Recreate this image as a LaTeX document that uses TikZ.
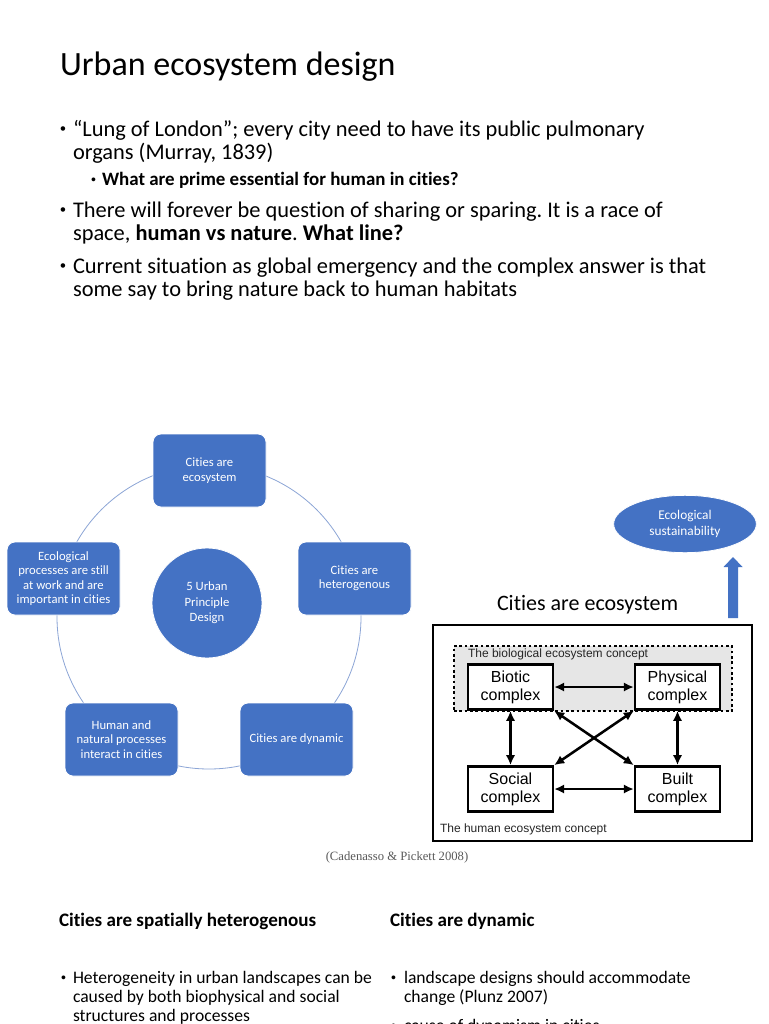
\documentclass[tikz,border=0pt]{standalone}
\usepackage{fontspec}
\setmainfont{Carlito}[Ligatures=NoCommon]
\newfontfamily\arialf{Liberation Sans}
\newfontfamily\citef{Liberation Serif}
\usetikzlibrary{arrows.meta,shapes.geometric}
\definecolor{pblue}{HTML}{4472C4}
\definecolor{ringc}{HTML}{8CA5D6}
\definecolor{dotfill}{HTML}{E6E6E6}
\frenchspacing
\tikzset{
  txt/.style={anchor=base west, inner sep=0pt, outer sep=0pt},
  bigtxt/.style={txt, font=\fontsize{16.8}{20}\selectfont},
  bul/.style={txt, font=\arialf\fontsize{12.5}{14}\selectfont},
  subtxt/.style={txt, font=\bfseries\fontsize{14.2}{17}\selectfont},
  lowtxt/.style={txt, font=\fontsize{13.2}{16}\selectfont},
  lowhead/.style={txt, font=\bfseries\fontsize{14.3}{17}\selectfont},
  pbox/.style={rectangle, rounded corners=6pt, fill=pblue, draw=white, line width=0.6pt,
    text=white, align=center, minimum width=84.75pt, minimum height=54.75pt,
    inner sep=1pt, font=\fontsize{9.5}{10.8}\selectfont},
  cbox/.style={rectangle, draw=black, fill=white, line width=1.8pt, align=center,
    minimum width=63.75pt, minimum height=34pt, inner sep=1pt,
    font=\arialf\fontsize{12}{13.5}\selectfont},
  dbl/.style={{Latex[length=7.5pt,width=7pt]}-{Latex[length=7.5pt,width=7pt]}, line width=1.9pt},
  smallarial/.style={txt, font=\arialf\fontsize{9}{10}\selectfont, text=black!85}
}
\begin{document}
\begin{tikzpicture}[x=0.75pt,y=-0.75pt]
\useasboundingbox (0,0) rectangle (768,1024);
\fill[white] (0,0) rectangle (768,1024);

% title
\node[txt, font=\fontsize{25.5}{30}\selectfont] (title) at (60,75) {Urban ecosystem design};

% bullets
\node[bul] (b1d) at (60,134) {•};
\node[bigtxt] (b1a) at (73,136) {“Lung of London”; every city need to have its public pulmonary};
\node[bigtxt] (b1b) at (73,159) {organs (Murray, 1839)};
\node[bul, font=\arialf\fontsize{10.5}{12}\selectfont] (b2d) at (91,184) {•};
\node[subtxt] (b2a) at (102,185) {What are prime essential for human in cities?};
\node[bul] (b3d) at (60,215) {•};
\node[bigtxt] (b3a) at (73,217) {There will forever be question of sharing or sparing. It is a race of};
\node[bigtxt] (b3b) at (73,240) {space, \textbf{human vs nature}. \textbf{What line?}};
\node[bul] (b4d) at (60,271) {•};
\node[bigtxt] (b4a) at (73,273) {Current situation as global emergency and the complex answer is that};
\node[bigtxt] (b4b) at (73,296) {some say to bring nature back to human habitats};

% cycle diagram
\draw[ringc, line width=0.6pt] (209,617) circle[radius=152];
\node[circle, fill=pblue, draw=white, line width=0.6pt, minimum size=82.5pt, text=white,
  align=center, inner sep=0pt, font=\fontsize{9.5}{11.7}\selectfont] (core) at (207,603)
  {5 Urban\\Principle\\Design};
\node[pbox] (eco) at (209.5,470.5) {Cities are\\ecosystem};
\node[pbox] (het) at (354.5,578.5) {Cities are\\heterogenous};
\node[pbox] (dyn) at (296.5,739.5) {Cities are dynamic};
\node[pbox] (hum) at (121.5,739.5) {Human and\\natural processes\\interact in cities};
\node[pbox] (ecp) at (63.5,578.5) {Ecological\\processes are still\\at work and are\\important in cities};

% ecological sustainability
\node[ellipse, fill=pblue, draw=white, line width=0.6pt, minimum width=107pt, minimum height=43pt,
  text=white, align=center, inner sep=0pt, font=\fontsize{10}{12.5}\selectfont] (sus) at (685,524)
  {Ecological\\sustainability};
\fill[pblue] (728,618) -- (728,567) -- (723.5,567) -- (733,557) -- (742.5,567) -- (738,567) -- (738,618) -- cycle;

\node[txt, font=\fontsize{16.5}{20}\selectfont] (cae) at (497,610) {Cities are ecosystem};

% human ecosystem concept
\node[rectangle, draw=black, line width=1.8pt, minimum width=239pt, minimum height=162pt, inner sep=0pt] (hec) at (592.5,733) {};
\node[rectangle, draw=black, fill=dotfill, line width=1.3pt, dash pattern=on 2pt off 2pt,
  minimum width=208.5pt, minimum height=49pt, inner sep=0pt] (bec) at (593,678.5) {};
\node[smallarial] (becl) at (468,657) {The biological ecosystem concept};
\node[smallarial] (hecl) at (440,832) {The human ecosystem concept};

\node[cbox] (bio) at (510.5,687) {Biotic\\complex};
\node[cbox] (phy) at (677.5,687) {Physical\\complex};
\node[cbox] (soc) at (510.5,789) {Social\\complex};
\node[cbox] (blt) at (677.5,789) {Built\\complex};

\draw[dbl] (bio.east) -- (phy.west);
\draw[dbl] (soc.east) -- (blt.west);
\draw[dbl] (bio.south) -- (soc.north);
\draw[dbl] (phy.south) -- (blt.north);
\draw[dbl] (bio.south east) -- (blt.north west);
\draw[dbl] (phy.south west) -- (soc.north east);

\node[anchor=center, inner sep=0pt, font=\citef\fontsize{9.5}{11}\selectfont, text=black!65] (cite) at (397,857) {(Cadenasso \& Pickett 2008)};

% bottom columns
\node[lowhead] (h1) at (59,926) {Cities are spatially heterogenous};
\node[lowhead] (h2) at (390,926) {Cities are dynamic};

\node[bul, font=\arialf\fontsize{10.5}{12}\selectfont] (l1d) at (61,982) {•};
\node[lowtxt] (l1a) at (73,983) {Heterogeneity in urban landscapes can be};
\node[lowtxt] (l1b) at (73,1002) {caused by both biophysical and social};
\node[lowtxt] (l1c) at (73,1021) {structures and processes};

\node[bul, font=\arialf\fontsize{10.5}{12}\selectfont] (r1d) at (391,982) {•};
\node[lowtxt] (r1a) at (404,983) {landscape designs should accommodate};
\node[lowtxt] (r1b) at (404,1002) {change (Plunz 2007)};
\node[bul, font=\arialf\fontsize{10.5}{12}\selectfont] (r2d) at (391,1030) {•};
\node[lowtxt] (r2a) at (404,1031) {cause of dynamism in cities};
\end{tikzpicture}
\end{document}
